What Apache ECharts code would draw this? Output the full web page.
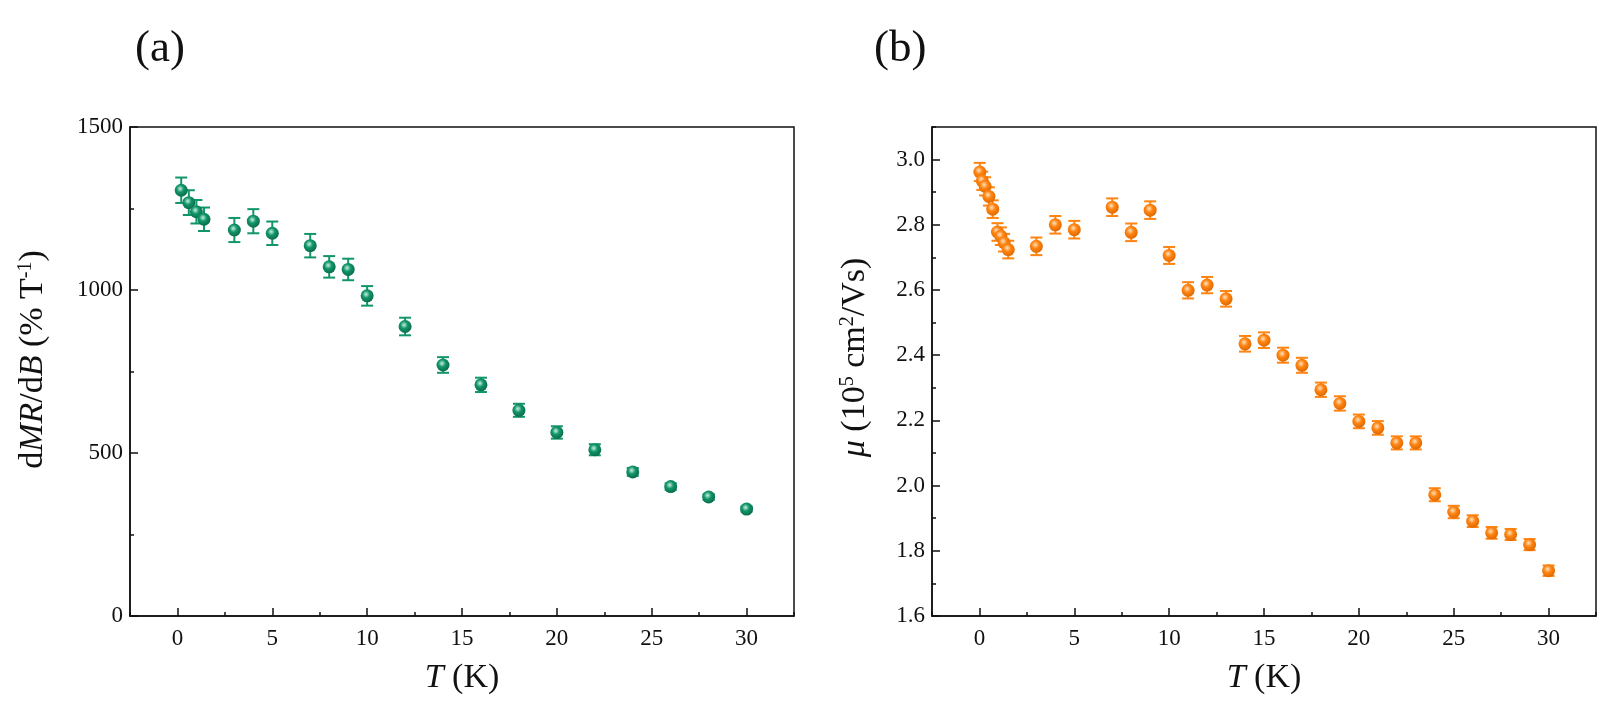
<!DOCTYPE html>
<html>
<head>
<meta charset="utf-8">
<script src="https://cdn.jsdelivr.net/npm/echarts@6/dist/echarts.min.js"></script>
<style>
  html, body { margin: 0; padding: 0; background: #fff; }
  #chart { width: 1600px; height: 706px; }
</style>
</head>
<body>
<div id="chart"></div>
<script>
// panel (a): dMR/dB vs T
const tempA = [0.2, 0.6, 1.0, 1.4, 3, 4, 5, 7, 8, 9, 10, 12, 14, 16, 18, 20, 22, 24, 26, 28, 30];
const mrA = [1306, 1268, 1240, 1217, 1184, 1211, 1174, 1136, 1071, 1063, 982, 888, 770, 709, 631, 563, 510, 442, 397, 365, 328];
const mrErrA = [39, 38, 36, 36, 37, 37, 36, 36, 33, 33, 30, 27, 24, 22, 20, 19, 17, 12, 10, 9, 8];

// panel (b): mobility vs T
const tempB = [0.02, 0.15, 0.3, 0.5, 0.7, 0.95, 1.13, 1.3, 1.52, 3, 4, 5, 7, 8, 9, 10, 11, 12, 13, 14, 15,
  16, 17, 18, 19, 20, 21, 22, 23, 24, 25, 26, 27, 28, 29, 30];
const muB = [2.962, 2.935, 2.918, 2.887, 2.848, 2.778, 2.765, 2.745, 2.724, 2.734, 2.800, 2.785, 2.854, 2.777,
  2.845, 2.706, 2.599, 2.615, 2.573, 2.435, 2.446, 2.400, 2.369, 2.294, 2.252, 2.197, 2.177, 2.131, 2.131,
  1.972, 1.919, 1.891, 1.855, 1.850, 1.819, 1.739];
const muErrB = [0.028, 0.028, 0.028, 0.028, 0.027, 0.027, 0.027, 0.027, 0.027, 0.027, 0.027, 0.027, 0.027, 0.027,
  0.027, 0.026, 0.025, 0.025, 0.024, 0.024, 0.024, 0.023, 0.023, 0.022, 0.022, 0.021, 0.021, 0.02, 0.02,
  0.02, 0.019, 0.018, 0.018, 0.017, 0.017, 0.016];

const FONT = 'Liberation Serif';
const GREEN = '#11956a';
const ORANGE = '#ff8411';

const zipA = tempA.map((t, i) => [t, mrA[i], mrErrA[i]]);
const zipB = tempB.map((t, i) => [t, muB[i], muErrB[i]]);

function ball(light, mid, dark) {
  return {
    type: 'radial', x: 0.42, y: 0.38, r: 0.62,
    colorStops: [
      { offset: 0, color: light },
      { offset: 0.45, color: mid },
      { offset: 1, color: dark }
    ]
  };
}

function errBars(color) {
  return function (params, api) {
    const x = api.value(0), y = api.value(1), e = api.value(2);
    const top = api.coord([x, y + e]);
    const bot = api.coord([x, y - e]);
    const w = 6;
    const st = { stroke: color, lineWidth: 2 };
    return {
      type: 'group',
      children: [
        { type: 'line', shape: { x1: top[0], y1: top[1], x2: bot[0], y2: bot[1] }, style: st },
        { type: 'line', shape: { x1: top[0] - w, y1: top[1], x2: top[0] + w, y2: top[1] }, style: st },
        { type: 'line', shape: { x1: bot[0] - w, y1: bot[1], x2: bot[0] + w, y2: bot[1] }, style: st }
      ]
    };
  };
}

const rich = {
  n: { fontFamily: FONT, fontSize: 34, color: '#111' },
  i: { fontFamily: FONT, fontSize: 34, fontStyle: 'italic', color: '#111' },
  s: { fontFamily: FONT, fontSize: 20, color: '#111', verticalAlign: 'top', lineHeight: 20 }
};

const gridBox = { top: 127, height: 489, width: 664 };
const tickStyle = { color: '#111', width: 1.5 };

function mainX(gridIndex) {
  return {
    type: 'value', gridIndex: gridIndex, position: 'bottom', min: -2.5, max: 32.5, splitNumber: 7,
    name: '{i|T}{n| (K)}', nameLocation: 'middle', nameGap: 45,
    nameTextStyle: { rich: rich },
    axisLine: { onZero: false, lineStyle: tickStyle },
    axisTick: { inside: true, length: 8, lineStyle: tickStyle },
    axisLabel: { showMinLabel: false, showMaxLabel: false, margin: 11, color: '#111', fontFamily: FONT, fontSize: 23 },
    splitLine: { show: false }
  };
}

function minorAxis(gridIndex, pos, min, max, interval) {
  return {
    type: 'value', gridIndex: gridIndex, position: pos, min: min, max: max, interval: interval,
    axisLine: { show: false, onZero: false },
    axisTick: { show: true, inside: true, length: 4, lineStyle: tickStyle },
    axisLabel: { show: false },
    splitLine: { show: false }
  };
}

const chart = echarts.init(document.getElementById('chart'));
chart.setOption({
  backgroundColor: '#fff',
  animation: false,
  title: [
    { text: '(a)', left: 130, top: 22, textStyle: { fontFamily: FONT, fontSize: 45, fontWeight: 'normal', color: '#111' } },
    { text: '(b)', left: 869, top: 22, textStyle: { fontFamily: FONT, fontSize: 45, fontWeight: 'normal', color: '#111' } }
  ],
  grid: [
    Object.assign({ left: 130, show: true, borderColor: '#111', borderWidth: 1.5 }, gridBox),
    Object.assign({ left: 932, show: true, borderColor: '#111', borderWidth: 1.5 }, gridBox),
    Object.assign({ left: 130 }, gridBox),
    Object.assign({ left: 932 }, gridBox)
  ],
  xAxis: [
    mainX(0),
    mainX(1),
    minorAxis(2, 'bottom', -2.5, 32.5, 2.5),
    minorAxis(3, 'bottom', -2.5, 32.5, 2.5)
  ],
  yAxis: [
    {
      type: 'value', gridIndex: 0, position: 'left', min: 0, max: 1500, interval: 500,
      name: '{n|d}{i|MR}{n|/d}{i|B}{n| (% T}{s|-1}{n|)}', nameLocation: 'middle', nameGap: 80,
      nameTextStyle: { rich: rich, padding: [0, 0, 0, 24] },
      axisLine: { onZero: false, lineStyle: tickStyle },
      axisTick: { inside: true, length: 8, lineStyle: tickStyle },
      axisLabel: { margin: 7, color: '#111', fontFamily: FONT, fontSize: 23, formatter: v => String(v) },
      splitLine: { show: false }
    },
    {
      type: 'value', gridIndex: 1, position: 'left', min: 1.6, max: 3.1, interval: 0.2,
      name: '{i|μ}{n| (10}{s|5}{n| cm}{s|2}{n|/Vs)}', nameLocation: 'middle', nameGap: 60,
      nameTextStyle: { rich: rich, padding: [0, 0, 0, 28] },
      axisLine: { onZero: false, lineStyle: tickStyle },
      axisTick: { inside: true, length: 8, lineStyle: tickStyle },
      axisLabel: {
        showMaxLabel: false, margin: 7, color: '#111', fontFamily: FONT, fontSize: 23,
        formatter: v => v.toFixed(1)
      },
      splitLine: { show: false }
    },
    minorAxis(2, 'left', 0, 1500, 250),
    minorAxis(3, 'left', 1.6, 3.1, 0.1)
  ],
  series: [
    {
      type: 'custom', xAxisIndex: 0, yAxisIndex: 0, data: zipA,
      renderItem: errBars(GREEN), z: 2
    },
    {
      type: 'scatter', xAxisIndex: 0, yAxisIndex: 0, data: zipA, symbolSize: 13, z: 3,
      itemStyle: { color: ball('#c9f0de', GREEN, '#0a6d4b'), opacity: 1 }
    },
    {
      type: 'custom', xAxisIndex: 1, yAxisIndex: 1, data: zipB,
      renderItem: errBars(ORANGE), z: 2
    },
    {
      type: 'scatter', xAxisIndex: 1, yAxisIndex: 1, data: zipB, symbolSize: 13, z: 3,
      itemStyle: { color: ball('#ffe3c2', ORANGE, '#e06a00'), opacity: 1 }
    }
  ]
});
</script>
</body>
</html>
